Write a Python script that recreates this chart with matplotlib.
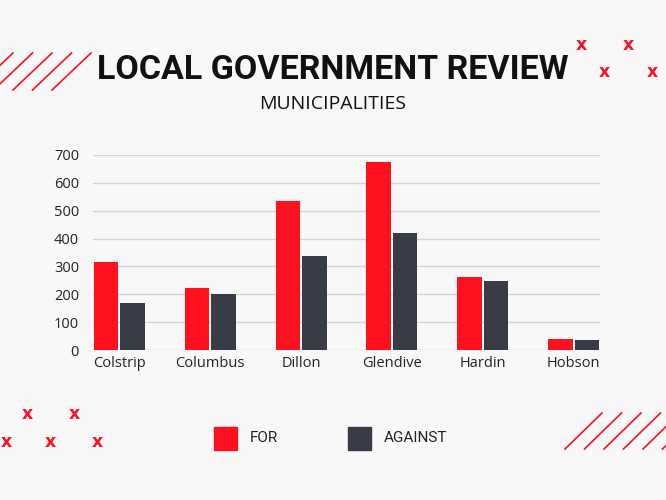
import matplotlib.pyplot as plt
from matplotlib.lines import Line2D
from matplotlib.patches import Rectangle
import numpy as np

# datos
municipios = ["Colstrip", "Columbus", "Dillon", "Glendive", "Hardin", "Hobson"]
votos_for = [316, 221, 536, 675, 263, 41]
votos_against = [170, 201, 337, 419, 249, 35]
ticks_y = [0, 100, 200, 300, 400, 500, 600, 700]

ROJO = "#ff101f"
OSCURO = "#373b45"
FONDO = "#f8f8f8"
W, H = 666, 500


def raya(fig, x0, y0, x1, y1):
    # coordenadas en pixeles, y hacia abajo
    fig.add_artist(Line2D([x0 / W, x1 / W], [1 - y0 / H, 1 - y1 / H], color=ROJO,
                          lw=1.2, transform=fig.transFigure))


def decorar(fig):
    # rayas diagonales arriba izquierda
    for i in range(5):
        xt = 13 + i * 19.5
        raya(fig, xt - 39, 90, xt, 53)
    # rayas abajo derecha
    for i in range(6):
        xb = 565 + i * 19.5
        raya(fig, xb, 449, xb + 37, 413)
    # cruces
    cruces = [(581, 45), (628, 45), (604, 72), (652, 72),
              (27, 414), (74, 414), (6, 442), (50, 442), (97, 442)]
    for cx, cy in cruces:
        fig.text(cx / W, 1 - cy / H, "x", color=ROJO, fontsize=12.5,
                 fontweight="bold", ha="center", va="center", family="DejaVu Sans")


def main():
    fig = plt.figure(figsize=(6.66, 5), dpi=100, facecolor=FONDO)
    ax = fig.add_axes([93 / W, 150 / H, 507 / W, 195 / H])
    ax.set_facecolor(FONDO)

    x = np.arange(len(municipios))
    ancho = 0.27
    ax.bar(x - ancho / 2 - 0.01, votos_for, ancho, color=ROJO, zorder=3)
    ax.bar(x + ancho / 2 + 0.01, votos_against, ancho, color=OSCURO, zorder=3)

    ax.set_xlim(-0.29, len(municipios) - 1 + 0.29)
    ax.set_ylim(0, 700)
    ax.set_yticks(ticks_y)
    ax.set_xticks(x)
    ax.set_xticklabels(municipios)
    ax.tick_params(length=0, labelsize=10.5, labelcolor="#222222", pad=4)
    ax.tick_params(axis="y", pad=10)
    for lab in ax.get_xticklabels() + ax.get_yticklabels():
        lab.set_family("Open Sans")
    ax.grid(axis="y", color="#d4d4d4", lw=1, zorder=0)
    for s in ax.spines.values():
        s.set_visible(False)

    fig.text(0.5, 1 - 70 / H, "LOCAL GOVERNMENT REVIEW", ha="center", va="center",
             fontsize=24.5, fontweight="bold", family="Roboto", color="#111111")
    fig.text(0.5, 1 - 104 / H, "MUNICIPALITIES", ha="center", va="center",
             fontsize=14, family="Open Sans", color="#111111")

    # leyenda a mano
    fig.add_artist(Rectangle((214 / W, 1 - 450 / H), 23 / W, 23 / H,
                             color=ROJO, transform=fig.transFigure))
    fig.text(250 / W, 1 - 438 / H, "FOR", va="center", fontsize=11,
             family="Roboto", color="#222222")
    fig.add_artist(Rectangle((348 / W, 1 - 450 / H), 23 / W, 23 / H,
                             color=OSCURO, transform=fig.transFigure))
    fig.text(384 / W, 1 - 438 / H, "AGAINST", va="center", fontsize=11,
             family="Roboto", color="#222222")

    decorar(fig)
    fig.savefig("out.png", dpi=100, facecolor=FONDO)


if __name__ == "__main__":
    main()
